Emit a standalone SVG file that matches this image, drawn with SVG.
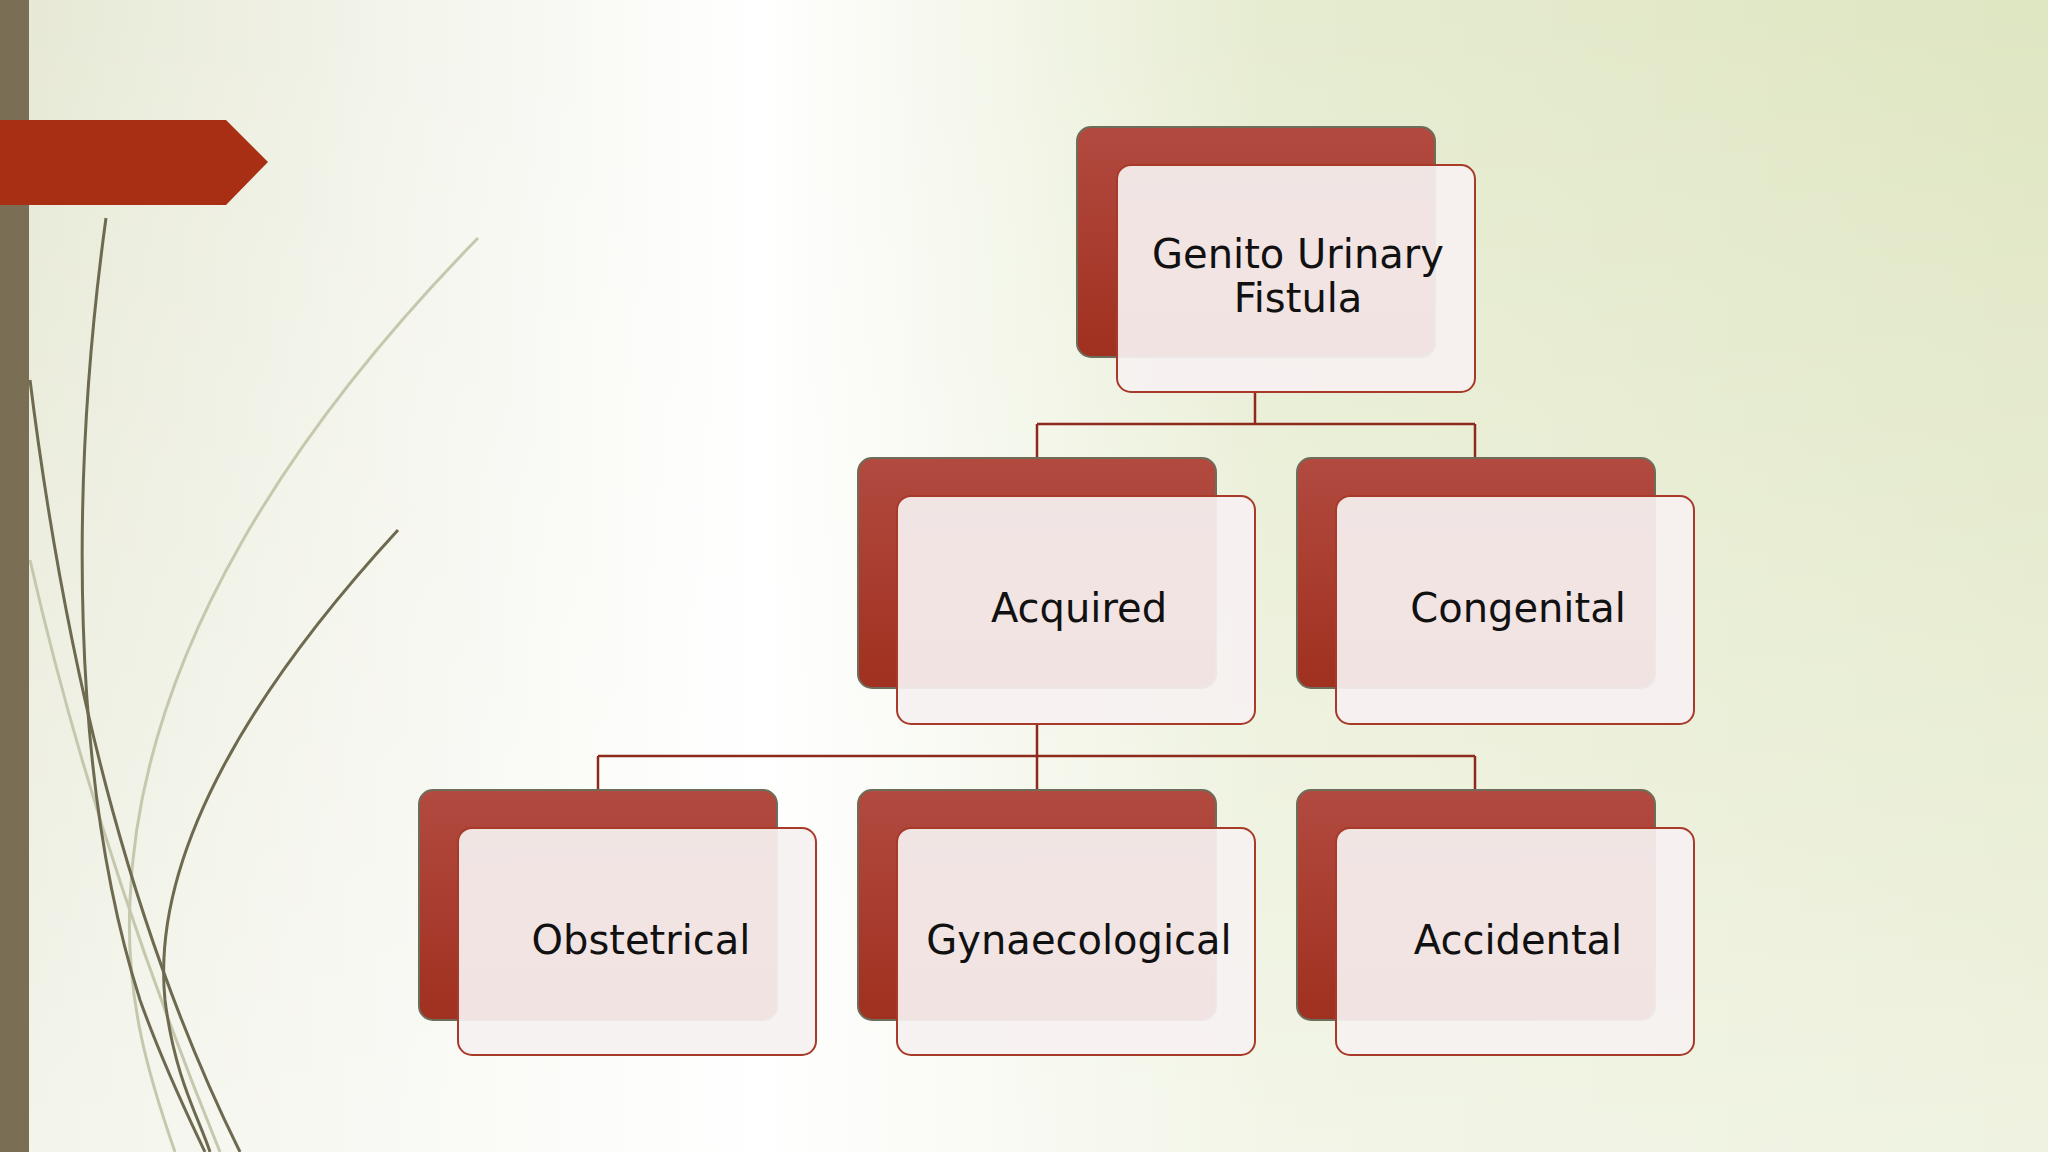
<svg xmlns="http://www.w3.org/2000/svg" width="2048" height="1152" viewBox="0 0 2048 1152">
<defs>
<linearGradient id="bg" x1="0" y1="0" x2="1" y2="0">
<stop offset="0" stop-color="#e6e8d4"/>
<stop offset="0.37" stop-color="#ffffff"/>
<stop offset="0.62" stop-color="#e6ecd0"/>
<stop offset="1" stop-color="#dfe6c2"/>
</linearGradient>
<linearGradient id="red" x1="0" y1="0" x2="0" y2="1">
<stop offset="0" stop-color="#b24a40"/>
<stop offset="1" stop-color="#a0301f"/>
</linearGradient>
<linearGradient id="vfade" x1="0" y1="0" x2="0" y2="1">
<stop offset="0" stop-color="#fff" stop-opacity="0"/>
<stop offset="1" stop-color="#fff" stop-opacity="0.5"/>
</linearGradient>
<style>
.back{fill:url(#red);stroke:#6d6d5a;stroke-width:2}
.front{fill:#f6f1f1;fill-opacity:0.93;stroke:#a83a2a;stroke-width:2}
.t{font-family:"DejaVu Sans",sans-serif;font-size:40px;fill:#111;text-anchor:middle}
.c{fill:none;stroke:#8e2a1c;stroke-width:2.5}
.g{fill:none;stroke:#6e6a50;stroke-width:3}
.gl{fill:none;stroke:#c6c8ae;stroke-width:3}
</style>
</defs>
<rect width="2048" height="1152" fill="url(#bg)"/>
<rect width="2048" height="1152" fill="url(#vfade)"/>
<g id="decor">
<path class="gl" d="M478 238 C300 420 140 650 130 900 C125 1000 150 1080 175 1152"/>
<path class="gl" d="M30 560 C80 780 150 980 220 1152"/>
<path class="g" d="M106 218 C70 480 70 780 140 1000 C165 1070 190 1120 205 1152"/>
<path class="g" d="M398 530 C260 680 150 850 165 1000 C175 1080 200 1120 210 1152"/>
<path class="g" d="M30 380 C70 700 140 950 240 1152"/>
<rect x="0" y="0" width="29" height="1152" fill="#7a6f55"/>
<path d="M0 120 H226 L268 162 L226 205 H0 Z" fill="#a82e14"/>
</g>
<g id="connectors">
<path class="c" d="M1255 392 V424 M1037 424 H1475 M1037 424 V458 M1475 424 V458"/>
<path class="c" d="M1037 724 V756 M598 756 H1475 M598 756 V790 M1037 756 V790 M1475 756 V790"/>
</g>
<g id="n-root"><rect class="back" x="1077" y="127" width="358" height="230" rx="14"/><rect class="front" x="1117" y="165" width="358" height="227" rx="14"/><text class="t" x="1298" y="268">Genito Urinary</text><text class="t" x="1298" y="312">Fistula</text></g>
<g id="n-acquired"><rect class="back" x="858" y="458" width="358" height="230" rx="14"/><rect class="front" x="897" y="496" width="358" height="228" rx="14"/><text class="t" x="1079" y="622">Acquired</text></g>
<g id="n-congenital"><rect class="back" x="1297" y="458" width="358" height="230" rx="14"/><rect class="front" x="1336" y="496" width="358" height="228" rx="14"/><text class="t" x="1518" y="622">Congenital</text></g>
<g id="n-obstetrical"><rect class="back" x="419" y="790" width="358" height="230" rx="14"/><rect class="front" x="458" y="828" width="358" height="227" rx="14"/><text class="t" x="641" y="954">Obstetrical</text></g>
<g id="n-gynae"><rect class="back" x="858" y="790" width="358" height="230" rx="14"/><rect class="front" x="897" y="828" width="358" height="227" rx="14"/><text class="t" x="1079" y="954">Gynaecological</text></g>
<g id="n-accidental"><rect class="back" x="1297" y="790" width="358" height="230" rx="14"/><rect class="front" x="1336" y="828" width="358" height="227" rx="14"/><text class="t" x="1518" y="954">Accidental</text></g>
</svg>
